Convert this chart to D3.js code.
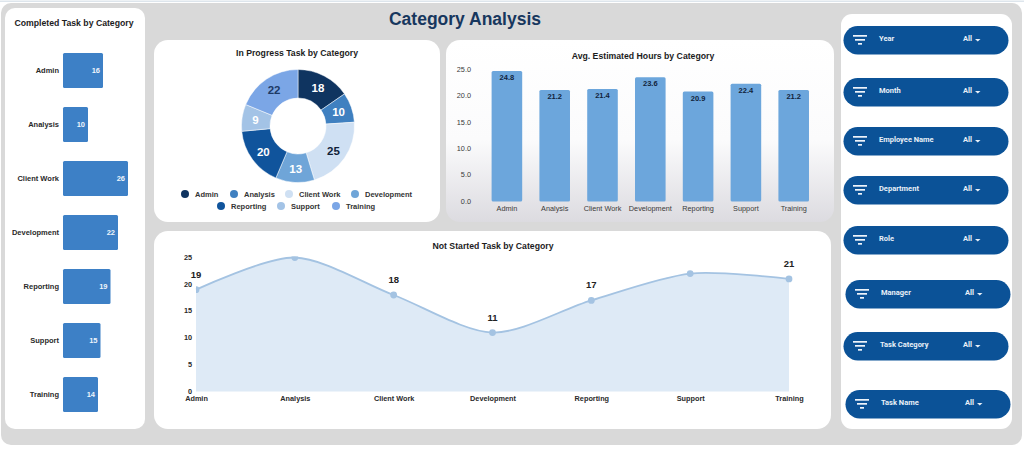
<!DOCTYPE html>
<html>
<head>
<meta charset="utf-8">
<script src="https://cdn.jsdelivr.net/npm/d3@7"></script>
<style>
  html, body { margin: 0; padding: 0; background: #fff; overflow: hidden; }
  svg { display: block; font-family: "Liberation Sans", Arial, sans-serif; }
</style>
</head>
<body>
<svg id="dash" width="1024" height="451"></svg>
<script>
// Task dashboard data, one short list per measure
const categories = ["Admin", "Analysis", "Client Work", "Development", "Reporting", "Support", "Training"];
const completedTasks = [16, 10, 26, 22, 19, 15, 14];
const inProgressTasks = [18, 10, 25, 13, 20, 9, 22];
const avgEstimatedHours = [24.8, 21.2, 21.4, 23.6, 20.9, 22.4, 21.2];
const notStartedTasks = [19, 25, 18, 11, 17, 22, 21];
const notStartedLabelled = ["Admin", "Client Work", "Development", "Reporting", "Training"];
const hourTicks = [0, 5, 10, 15, 20, 25];
const taskTicks = [0, 5, 10, 15, 20, 25];
const filterNames = ["Year", "Month", "Employee Name", "Department", "Role", "Manager", "Task Category", "Task Name"];

const donutColors = ["#0f3460", "#3f80c0", "#cfe0f3", "#6fa5d8", "#10549c", "#a3c3e6", "#7ba6e6"];
const donutLabelColors = ["#fff", "#fff", "#10223a", "#fff", "#fff", "#fff", "#1d3a66"];
const ink = "#1c1c1c";

const svg = d3.select("#dash");
const defs = svg.append("defs");
const cardFade = defs.append("linearGradient").attr("id", "cardFade")
  .attr("x1", 0).attr("y1", 0).attr("x2", 0).attr("y2", 1);
cardFade.append("stop").attr("offset", "0%").attr("stop-color", "#ffffff");
cardFade.append("stop").attr("offset", "55%").attr("stop-color", "#fbfbfc");
cardFade.append("stop").attr("offset", "100%").attr("stop-color", "#dcdbe0");
// Markers stop at the plot edge on the left and at the top of the scale
defs.append("clipPath").attr("id", "plotClip").append("rect")
  .attr("x", 196).attr("y", 256.5).attr("width", 600).attr("height", 140);

// Page backdrop and white cards
svg.append("rect").attr("x", 0).attr("y", 0.5).attr("width", 1024).attr("height", 1.5).attr("fill", "#dde5ec");
svg.append("rect").attr("x", 1).attr("y", 3).attr("width", 1021).attr("height", 442).attr("rx", 10)
  .attr("fill", "#d9d9d9");
function card(x, y, w, h, r, fill) {
  svg.append("rect").attr("x", x).attr("y", y).attr("width", w).attr("height", h).attr("rx", r)
    .attr("fill", fill || "#fff");
}
card(5, 8, 140, 421, 10);
card(154, 40, 286, 182, 14);
card(446, 40, 388, 182, 14, "url(#cardFade)");
card(154, 231, 677, 198, 14);
card(841, 14, 171, 415, 11);

function title(x, y, text) {
  svg.append("text").attr("x", x).attr("y", y).attr("text-anchor", "middle")
    .attr("font-size", 8.7).attr("font-weight", 700).attr("fill", ink).text(text);
}

svg.append("text").attr("x", 465).attr("y", 25).attr("text-anchor", "middle")
  .attr("font-size", 17.5).attr("font-weight", 700).attr("fill", "#17375e").text("Category Analysis");

// Completed tasks: horizontal bars
title(74, 25.5, "Completed Task by Category");
const compX = d3.scaleLinear().domain([0, 26]).range([63, 128]);
const compY = d3.scaleBand().domain(categories).range([44, 422]).paddingInner(0.35).paddingOuter(0.175);
const comp = svg.append("g");
comp.selectAll("rect").data(categories).join("rect")
  .attr("x", compX(0)).attr("y", d => compY(d) - 0.5)
  .attr("width", (d, i) => compX(completedTasks[i]) - compX(0)).attr("height", compY.bandwidth())
  .attr("rx", 1.5).attr("fill", "#3d80c6");
comp.selectAll("text.cat").data(categories).join("text").attr("class", "cat")
  .attr("x", 59).attr("y", d => compY(d) + compY.bandwidth() / 2 + 2)
  .attr("text-anchor", "end").attr("font-size", 7.5).attr("font-weight", 700).attr("fill", "#2a2a2a").text(d => d);
comp.selectAll("text.val").data(categories).join("text").attr("class", "val")
  .attr("x", (d, i) => compX(completedTasks[i]) - 3).attr("y", d => compY(d) + compY.bandwidth() / 2 + 2)
  .attr("text-anchor", "end").attr("font-size", 7.5).attr("font-weight", 700).attr("fill", "#eef4fb")
  .text((d, i) => completedTasks[i]);

// In-progress tasks: donut with legend
title(297, 56, "In Progress Task by Category");
const donut = svg.append("g").attr("transform", "translate(298,126)");
const pie = d3.pie().sort(null).value(d => d)(inProgressTasks);
const arc = d3.arc().innerRadius(28).outerRadius(56.5);
const labelArc = d3.arc().innerRadius(42).outerRadius(44);
donut.selectAll("path").data(pie).join("path")
  .attr("d", arc).attr("fill", (d, i) => donutColors[i]).attr("stroke", "#fff").attr("stroke-width", 0.5);
donut.selectAll("text").data(pie).join("text")
  .attr("transform", d => `translate(${labelArc.centroid(d)})`)
  .attr("text-anchor", "middle").attr("dy", "0.36em")
  .attr("font-size", 11.5).attr("font-weight", 700)
  .attr("fill", (d, i) => donutLabelColors[i]).text(d => d.data);

const legendSlots = [[185, 194], [234, 194], [289, 194], [355, 194], [221, 206], [281, 206], [336, 206]];
const legend = svg.append("g");
categories.forEach((c, i) => {
  const [lx, ly] = legendSlots[i];
  legend.append("circle").attr("cx", lx).attr("cy", ly).attr("r", 4).attr("fill", donutColors[i]);
  legend.append("text").attr("x", lx + 10).attr("y", ly + 2.6)
    .attr("font-size", 7.5).attr("font-weight", 700)
    .attr("fill", "#333").text(c);
});

// Average hours: vertical bars
title(643, 58.5, "Avg. Estimated Hours by Category");
const hourX = d3.scaleBand().domain(categories).range([483, 817.6]).paddingInner(0.36).paddingOuter(0.18);
const hourY = d3.scaleLinear().domain([0, 25]).range([201.5, 70]);
const hours = svg.append("g");
hours.selectAll("rect").data(categories).join("rect")
  .attr("x", d => hourX(d)).attr("y", (d, i) => hourY(avgEstimatedHours[i]))
  .attr("width", hourX.bandwidth()).attr("height", (d, i) => hourY(0) - hourY(avgEstimatedHours[i]))
  .attr("rx", 1.5).attr("fill", "#6ca6dc");
hours.selectAll("text.val").data(categories).join("text").attr("class", "val")
  .attr("x", d => hourX(d) + hourX.bandwidth() / 2).attr("y", (d, i) => hourY(avgEstimatedHours[i]) + 9)
  .attr("text-anchor", "middle").attr("font-size", 7.5).attr("font-weight", 700).attr("fill", "#12233a")
  .text((d, i) => avgEstimatedHours[i].toFixed(1));
const hourXAxis = hours.append("g").attr("transform", "translate(0,201.5)")
  .call(d3.axisBottom(hourX).tickSize(0).tickPadding(4));
const hourYAxis = hours.append("g").attr("transform", "translate(471,-0.8)")
  .call(d3.axisLeft(hourY).tickValues(hourTicks).tickSize(0).tickPadding(0).tickFormat(d3.format(".1f")));
[hourXAxis, hourYAxis].forEach(a => {
  a.select(".domain").remove();
  a.selectAll("text").attr("font-family", "Liberation Sans, Arial, sans-serif").attr("font-size", 7.3).attr("fill", "#3a3a3a");
});

// Not-started tasks: smoothed area with markers
title(493, 249, "Not Started Task by Category");
const lineX = d3.scalePoint().domain(categories).range([196, 789]);
const lineY = d3.scaleLinear().domain([0, 25]).range([391.5, 257.5]);
const curve = d3.curveCardinal.tension(0.15);
const area = d3.area().x((d, i) => lineX(categories[i])).y0(lineY(0)).y1(d => lineY(d)).curve(curve);
const line = d3.line().x((d, i) => lineX(categories[i])).y(d => lineY(d)).curve(curve);
const trend = svg.append("g");
trend.append("path").attr("d", area(notStartedTasks)).attr("fill", "#deeaf6");
trend.append("path").attr("d", line(notStartedTasks)).attr("fill", "none").attr("stroke", "#a4c3e2").attr("stroke-width", 1.8);
trend.append("g").attr("clip-path", "url(#plotClip)")
  .selectAll("circle").data(categories).join("circle")
  .attr("cx", d => lineX(d)).attr("cy", (d, i) => lineY(notStartedTasks[i])).attr("r", 3.4).attr("fill", "#a4c3e2");
trend.selectAll("text.val").data(categories.filter(c => notStartedLabelled.includes(c))).join("text").attr("class", "val")
  .attr("x", d => lineX(d)).attr("y", d => lineY(notStartedTasks[categories.indexOf(d)]) - 12)
  .attr("text-anchor", "middle").attr("font-size", 9.5).attr("font-weight", 700).attr("fill", "#222")
  .text(d => notStartedTasks[categories.indexOf(d)]);
const lineXAxis = trend.append("g").attr("transform", "translate(0,391.5)")
  .call(d3.axisBottom(lineX).tickSize(0).tickPadding(4.5));
const lineYAxis = trend.append("g").attr("transform", "translate(192,-0.6)")
  .call(d3.axisLeft(lineY).tickValues(taskTicks).tickSize(0).tickPadding(0));
[lineXAxis, lineYAxis].forEach(a => {
  a.select(".domain").remove();
  a.selectAll("text").attr("font-family", "Liberation Sans, Arial, sans-serif")
    .attr("font-size", 7.3).attr("font-weight", 700).attr("fill", "#2a2a2a");
});

// Filter pills down the right-hand side
const pillX = [843.5, 843.5, 843.5, 843.5, 843.5, 845.5, 843.5, 845.5];
const pillY = [26, 78, 127, 176, 226, 280, 332, 390];
const pillLabelX = [879, 879, 879, 879, 879, 881, 880, 881];
const pills = svg.append("g").selectAll("g").data(filterNames).join("g")
  .attr("transform", (d, i) => `translate(${pillX[i]},${pillY[i]})`);
pills.append("rect").attr("width", 165).attr("height", 28.5).attr("rx", 14.25).attr("fill", "#0b5297");
[[9.5, 14, 9], [11.5, 10, 13], [14.5, 4, 17]].forEach(([x, w, y]) => {
  pills.append("rect").attr("x", x).attr("y", y).attr("width", w).attr("height", 1.7).attr("fill", "#eef4fb");
});
pills.append("text").attr("x", (d, i) => pillLabelX[i] - pillX[i]).attr("y", 14.5)
  .attr("font-family", "Roboto, sans-serif").attr("font-size", 7.5).attr("font-weight", 700).attr("fill", "#e8f0f8")
  .text(d => d);
pills.append("text").attr("x", 119.5).attr("y", 14.5)
  .attr("font-family", "Roboto, sans-serif").attr("font-size", 7.5).attr("font-weight", 700).attr("fill", "#e8f0f8")
  .text("All");
pills.append("path").attr("d", "M131.5,13h5.5l-2.75,2.5z").attr("fill", "#e8f0f8");
</script>
</body>
</html>
